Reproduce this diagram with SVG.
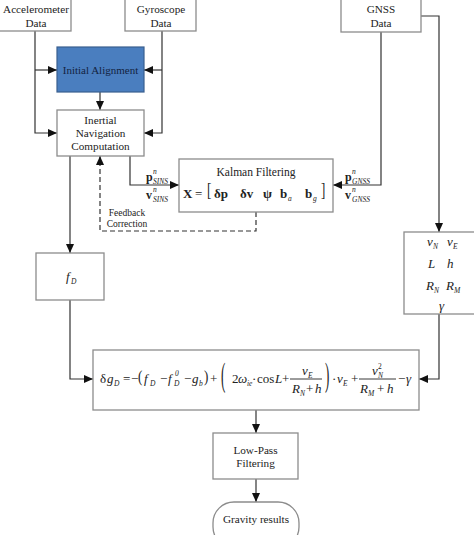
<svg xmlns="http://www.w3.org/2000/svg" width="474" height="535" viewBox="0 0 474 535">
<defs>
<style>
text{font-family:"Liberation Serif","Times New Roman",serif;fill:#222;}
.lbl{font-size:11.2px;text-anchor:middle;}
.box{fill:#fff;stroke:#8c8c8c;stroke-width:1.3;}
.ln{fill:none;stroke:#333;stroke-width:1.2;}
.dash{fill:none;stroke:#333;stroke-width:1.2;stroke-dasharray:5,3;}
.m{font-size:13px;}
.i{font-style:italic;}
.b{font-weight:bold;}
.s{font-size:7.5px;font-style:italic;}
</style>
<marker id="ah" markerWidth="9" markerHeight="8" refX="9" refY="4" orient="auto" markerUnits="userSpaceOnUse"><path d="M0,0 L9,4 L0,8 z" fill="#111"/></marker>
</defs>
<rect width="474" height="535" fill="#fff"/>

<g id="connectors">
<path class="ln" d="M35,31 V133 H57" marker-end="url(#ah)"/>
<path class="ln" d="M35,70 H57" marker-end="url(#ah)"/>
<path class="ln" d="M162,31 V133 H144" marker-end="url(#ah)"/>
<path class="ln" d="M162,70 H144" marker-end="url(#ah)"/>
<path class="ln" d="M100,92 V110" marker-end="url(#ah)"/>
<path class="ln" d="M70,156 V253" marker-end="url(#ah)"/>
<path class="ln" d="M130,156 V185 H179" marker-end="url(#ah)"/>
<path class="ln" d="M381,32 V185 H333" marker-end="url(#ah)"/>
<path class="dash" d="M256,212 V231 H100 V156" marker-end="url(#ah)"/>
<path class="ln" d="M421,16 H439 V232" marker-end="url(#ah)"/>
<path class="ln" d="M439,314 V379 H419" marker-end="url(#ah)"/>
<path class="ln" d="M70,300 V379 H93" marker-end="url(#ah)"/>
<path class="ln" d="M256,410 V433" marker-end="url(#ah)"/>
<path class="ln" d="M256,479 V502" marker-end="url(#ah)"/>
</g>

<g id="accelerometer">
<rect class="box" x="-1" y="-10" width="72" height="41"/>
<text class="lbl" x="36" y="13">Accelerometer</text>
<text class="lbl" x="36" y="27">Data</text>
</g>

<g id="gyroscope">
<rect class="box" x="125" y="-10" width="71" height="41"/>
<text class="lbl" x="161" y="13">Gyroscope</text>
<text class="lbl" x="161" y="27">Data</text>
</g>

<g id="gnss">
<rect class="box" x="341" y="-10" width="80" height="42"/>
<text class="lbl" x="381" y="13">GNSS</text>
<text class="lbl" x="381" y="27">Data</text>
</g>

<g id="initial-alignment">
<rect x="57" y="47" width="87" height="45" fill="#4a7ebf" stroke="#3a5f8f" stroke-width="1.2"/>
<text class="lbl" x="100.5" y="74" style="font-size:11px;fill:#13233f">Initial Alignment</text>
</g>

<g id="inertial-navigation">
<rect class="box" x="57" y="110" width="87" height="46"/>
<text class="lbl" x="100.5" y="124">Inertial</text>
<text class="lbl" x="100.5" y="137">Navigation</text>
<text class="lbl" x="100.5" y="150">Computation</text>
</g>

<g id="sins-labels">
<text class="b" x="146" y="181" font-size="12">p</text>
<text class="s" x="153" y="174">n</text>
<text class="s" x="153" y="184">SINS</text>
<text class="b" x="146" y="199" font-size="12">v</text>
<text class="s" x="153" y="192">n</text>
<text class="s" x="153" y="202">SINS</text>
</g>

<g id="gnss-labels">
<text class="b" x="345" y="181" font-size="12">p</text>
<text class="s" x="352" y="174">n</text>
<text class="s" x="352" y="184">GNSS</text>
<text class="b" x="345" y="199" font-size="12">v</text>
<text class="s" x="352" y="192">n</text>
<text class="s" x="352" y="202">GNSS</text>
</g>

<g id="kalman">
<rect class="box" x="179" y="159" width="154" height="53"/>
<text class="lbl" x="256" y="176" style="font-size:11.5px">Kalman Filtering</text>
<text class="m b" x="183" y="198">X</text>
<text class="m" x="195" y="198">=</text>
<text class="m" transform="translate(207,196) scale(1,1.45)">[</text>
<text class="m b" x="214" y="198">δp</text>
<text class="m b" x="240" y="198">δv</text>
<text class="m b" x="263" y="198">ψ</text>
<text class="m b" x="280" y="198">b</text>
<text class="s" x="288" y="201">a</text>
<text class="m b" x="305" y="198">b</text>
<text class="s" x="313" y="201">g</text>
<text class="m" transform="translate(321,196) scale(1,1.45)">]</text>
</g>

<g id="feedback-label">
<text x="127" y="216" style="font-size:9.5px;text-anchor:middle">Feedback</text>
<text x="127" y="227" style="font-size:9.5px;text-anchor:middle">Correction</text>
</g>

<g id="fD">
<rect class="box" x="36" y="253" width="68" height="47"/>
<text class="m i" x="66" y="281">f</text>
<text class="s" x="71" y="284">D</text>
</g>

<g id="gnss-params">
<rect class="box" x="404" y="232" width="72" height="82"/>
<text class="m i" x="427" y="246">v</text><text class="s" x="433" y="249">N</text>
<text class="m i" x="447" y="246">v</text><text class="s" x="453" y="249">E</text>
<text class="m i" x="428" y="268">L</text>
<text class="m i" x="447" y="268">h</text>
<text class="m i" x="426" y="290">R</text><text class="s" x="434" y="293">N</text>
<text class="m i" x="446" y="290">R</text><text class="s" x="454" y="293">M</text>
<text class="m i" x="439" y="310">γ</text>
</g>

<g id="gravity-formula">
<rect class="box" x="93" y="350" width="326" height="60"/>
<text class="m" x="100" y="383">δ</text>
<text class="m i" x="107" y="383">g</text>
<text class="s" x="114" y="386">D</text>
<text class="m" x="123" y="383">=</text>
<text class="m" x="131" y="383">−</text>
<text class="m" transform="translate(138,382) scale(1,1.35)">(</text>
<text class="m i" x="144" y="383">f</text>
<text class="s" x="150" y="386">D</text>
<text class="m" x="160" y="383">−</text>
<text class="m i" x="168" y="383">f</text>
<text class="s" x="174" y="386">D</text>
<text class="s" x="175" y="376">0</text>
<text class="m" x="184" y="383">−</text>
<text class="m i" x="192" y="383">g</text>
<text class="s" x="199" y="386">b</text>
<text class="m" transform="translate(204,382) scale(1,1.35)">)</text>
<text class="m" x="210" y="383">+</text>
<text class="m" transform="translate(221,386) scale(1,2.6)">(</text>
<text class="m" x="232" y="383">2</text>
<text class="m i" x="238" y="383">ω</text>
<text class="s" x="247" y="386">ie</text>
<text class="m" x="252" y="383">·</text>
<text class="m" x="257" y="383">cos</text>
<text class="m i" x="275" y="383">L</text>
<text class="m" x="282" y="383">+</text>
<line x1="290" y1="379" x2="322" y2="379" stroke="#222" stroke-width="0.9"/>
<text class="m i" x="302" y="375">v</text><text class="s" x="308" y="378">E</text>
<text class="m i" x="292" y="393">R</text><text class="s" x="300" y="396">N</text>
<text class="m" x="306" y="393">+</text>
<text class="m i" x="315" y="393">h</text>
<text class="m" transform="translate(325,386) scale(1,2.6)">)</text>
<text class="m" x="332" y="383">·</text>
<text class="m i" x="337" y="383">v</text>
<text class="s" x="343" y="386">E</text>
<text class="m" x="351" y="383">+</text>
<line x1="359" y1="379" x2="396" y2="379" stroke="#222" stroke-width="0.9"/>
<text class="m i" x="372" y="375">v</text><text class="s" x="378" y="378">N</text><text class="s" x="378" y="369" style="font-style:normal">2</text>
<text class="m i" x="360" y="393">R</text><text class="s" x="368" y="396">M</text>
<text class="m" x="377" y="393">+</text>
<text class="m i" x="387" y="393">h</text>
<text class="m" x="398" y="383">−</text>
<text class="m i" x="406" y="383">γ</text>
</g>

<g id="low-pass">
<rect class="box" x="213" y="433" width="85" height="46"/>
<text class="lbl" x="255.5" y="454">Low-Pass</text>
<text class="lbl" x="255.5" y="467">Filtering</text>
</g>

<g id="gravity-results">
<rect class="box" x="213" y="502" width="86" height="46" rx="21" ry="21"/>
<text class="lbl" x="256" y="523">Gravity results</text>
</g>
</svg>
